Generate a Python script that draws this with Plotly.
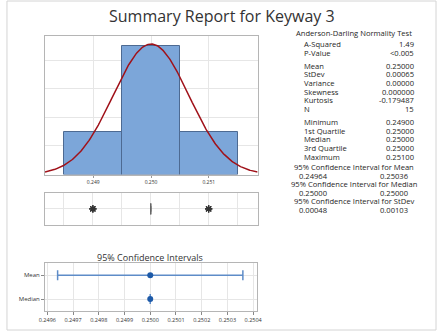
import numpy as np
import plotly.graph_objects as go

W, H = 442, 331

# ---- data ----
keyway_values = [0.249, 0.249, 0.249,
                 0.250, 0.250, 0.250, 0.250, 0.250, 0.250, 0.250, 0.250, 0.250,
                 0.251, 0.251, 0.251]
hist_ticks = [0.249, 0.250, 0.251]
ci_labels = ["Mean", "Median"]
ci_center = [0.25000, 0.25000]
ci_lower = [0.24964, 0.25000]
ci_upper = [0.25036, 0.25000]
ci_ticks = [0.2496, 0.2497, 0.2498, 0.2499, 0.2500, 0.2501, 0.2502, 0.2503, 0.2504]

stat_labels_1 = ["A-Squared", "P-Value"]
stat_values_1 = ["1.49", "<0.005"]
stat_labels_2 = ["Mean", "StDev", "Variance", "Skewness", "Kurtosis", "N"]
stat_values_2 = ["0.25000", "0.00065", "0.00000", "0.000000", "-0.179487", "15"]
stat_labels_3 = ["Minimum", "1st Quartile", "Median", "3rd Quartile", "Maximum"]
stat_values_3 = ["0.24900", "0.25000", "0.25000", "0.25000", "0.25100"]
ci_text = [("95% Confidence Interval for Mean", "0.24964", "0.25036"),
           ("95% Confidence Interval for Median", "0.25000", "0.25000"),
           ("95% Confidence Interval for StDev", "0.00048", "0.00103")]

def px(x):
    return x / W

def py(y):
    return 1 - y / H

FONT = "Open Sans"
GRID = "#e6e6e6"
FRAME = "#b5b5b5"

vals = np.array(keyway_values)
mu = vals.mean()
sd = vals.std(ddof=1)
xr = [0.248165, 0.251845]
xc = np.linspace(xr[0], xr[1], 300)
yc = len(vals) * 0.001 * np.exp(-0.5 * ((xc - mu) / sd) ** 2) / (sd * np.sqrt(2 * np.pi))

fig = go.Figure()

fig.add_trace(go.Histogram(
    x=keyway_values, xbins=dict(start=0.2485, end=0.2515, size=0.001),
    marker=dict(color="#7ca6d9", line=dict(color="#4d6a92", width=1)),
    xaxis="x", yaxis="y", showlegend=False))
fig.add_trace(go.Scatter(x=xc, y=yc, mode="lines",
                         line=dict(color="#a0121a", width=1.5),
                         xaxis="x", yaxis="y", showlegend=False))

fig.add_trace(go.Box(x=keyway_values, y0=0, orientation="h", boxpoints="outliers",
                     width=0.7, fillcolor="rgba(0,0,0,0)",
                     line=dict(color="#666666", width=1),
                     marker=dict(symbol="asterisk-open", size=6, color="#333333",
                                 line=dict(color="#333333", width=1.2)),
                     xaxis="x2", yaxis="y2", showlegend=False))

ci_y = [1, 0]
fig.add_trace(go.Scatter(
    x=ci_center, y=ci_y, mode="markers",
    marker=dict(color="#1d5aa8", size=6),
    error_x=dict(type="data", symmetric=False,
                 array=[u - c for u, c in zip(ci_upper, ci_center)],
                 arrayminus=[c - l for c, l in zip(ci_center, ci_lower)],
                 color="#5e8cc8", thickness=1.5, width=5),
    xaxis="x3", yaxis="y3", showlegend=False))

ax_common = dict(showline=True, mirror=True, linecolor=FRAME, linewidth=1.2,
                 gridcolor=GRID, zeroline=False)

fig.update_layout(
    width=W, height=H, margin=dict(l=0, r=0, t=0, b=0),
    paper_bgcolor="white", plot_bgcolor="white",
    font=dict(family=FONT, color="#333333"),
    bargap=0,
    xaxis=dict(domain=[px(40), px(258)], range=xr, tickvals=hist_ticks,
               ticktext=["0.249", "0.250", "0.251"], ticks="outside", ticklen=2,
               tickcolor="#999999", tickfont=dict(size=5, color="#333333"),
               anchor="y", **ax_common),
    yaxis=dict(domain=[py(174.5), py(36)], range=[0, 9.7], tickvals=[2, 4, 6, 8],
               showticklabels=False, anchor="x", **ax_common),
    xaxis2=dict(domain=[px(39.5), px(258)], range=xr, dtick=0.0005, tick0=0.2485,
                showticklabels=False, anchor="y2", **ax_common),
    yaxis2=dict(domain=[py(224.5), py(193.3)], range=[-1, 1], tickvals=[0],
                showticklabels=False, anchor="x2", **ax_common),
    xaxis3=dict(domain=[px(40), px(257.7)], range=[0.249591, 0.250416],
                tickvals=ci_ticks, ticktext=["%.4f" % t for t in ci_ticks],
                ticks="outside", ticklen=3, tickcolor="#888888",
                tickfont=dict(size=5.5, color="#333333"), anchor="y3", **ax_common),
    yaxis3=dict(domain=[py(311), py(263.3)], range=[-0.5, 1.5], tickvals=ci_y,
                ticktext=ci_labels, ticks="outside", ticklen=3, tickcolor="#888888",
                tickfont=dict(size=6, color="#333333"), anchor="x3", **ax_common),
)

ann = []
def text(x, y, s, size=7.6, xanchor="center", color="#1e1e1e"):
    ann.append(dict(x=px(x), y=py(y), xref="paper", yref="paper", text=s,
                    showarrow=False, xanchor=xanchor, yanchor="middle",
                    borderpad=0, font=dict(size=size, family=FONT, color=color)))

text(221, 16, "Summary Report for Keyway 3", size=16, color="#333333")
text(148, 257, "95% Confidence Intervals", size=9, color="#333333")

text(357, 33.3, "Anderson-Darling Normality Test")
rows = [(stat_labels_1, stat_values_1, 44.0),
        (stat_labels_2, stat_values_2, 65.7),
        (stat_labels_3, stat_values_3, 122.0)]
for labs, vs, y0 in rows:
    for i, (l, v) in enumerate(zip(labs, vs)):
        yy = y0 + i * 8.7
        text(305, yy, l, xanchor="left")
        text(419, yy, v, xanchor="right")

for i, (title, lo, hi) in enumerate(ci_text):
    yy = 167.3 + i * 17
    text(357, yy, title)
    text(315, yy + 8.5, lo)
    text(398, yy + 8.5, hi)

fig.update_layout(annotations=ann)
fig.add_shape(type="rect", xref="paper", yref="paper",
              x0=px(1), x1=px(441), y0=py(330), y1=py(1),
              line=dict(color="#d4d4d4", width=1))

fig.write_html("out.html")
